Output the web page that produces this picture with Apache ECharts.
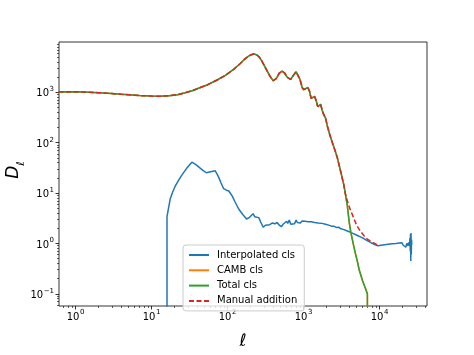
<!DOCTYPE html>
<html><head><meta charset="utf-8">
<script src="https://cdn.jsdelivr.net/npm/echarts@6/dist/echarts.min.js"></script>
<style>html,body{margin:0;padding:0;background:#fff}#c{width:474px;height:355px}</style>
</head><body><div id="c"></div>
<script>
// ---- data (raw values, plotted on log10 scales) ----
const interpEll = [16,16,17.6,19,20.5,23,25.2,29,34,38,41.7,47,52.6,60,69,76,82,89,97,104,115,125,135,145,160,178,195,205,217,228,238,258,275,295,315,333,
 360,390,420,450,480,510,540,570,600,620,650,680,720,760,800,830,870,910,960,1000,1050,1100,1150,1200,1260,1320,1400,1480,1560,1650,1750,1850,1950,2050,
 2200,2350,2500,2700,2900,3100,3250,3400,3550,3700,3850,4000,4200,4400,4600,4800,5000,5200,5450,5700,5950,6200,6500,6800,7100,7400,7700,8000,8400,8800,9200,9500,
 10000,10500,11000,11600,12300,13000,13800,14600,15500,16400,17300,18200,19000,19800,20500,21000,21600,22200,22800,23500,24200,24800,25200,25400,25600,25800,26000,26200,26400,26600];
const interpD = [0.001,3.4,7.6,10.5,13.7,18.5,23,31,41,37,33,28.5,25.3,26.5,27.6,21.2,16,12.2,11.4,11,8.8,6.8,5.4,4.5,3.7,3.05,3.3,3.6,3.9,3.4,3.2,3.25,2.6,2.1,2.3,2.5,
 2.35,2.55,2.45,2.6,2.3,2.15,2.4,2.3,2.75,2.5,2.9,2.4,2.6,2.45,2.9,2.6,2.75,2.55,2.8,2.6,2.75,2.55,2.7,2.6,2.7,2.5,2.6,2.5,2.55,2.4,2.5,2.35,2.4,2.3,
 2.28,2.18,2.2,2.08,2.1,1.95,2.0,1.88,1.92,1.78,1.82,1.7,1.72,1.6,1.63,1.5,1.53,1.42,1.45,1.33,1.36,1.25,1.24,1.15,1.16,1.07,1.08,1.0,0.98,0.94,0.93,0.9,
 0.88,0.92,0.9,0.94,0.92,0.96,0.93,0.98,0.95,1.0,0.97,1.02,0.98,1.03,0.92,0.85,0.95,0.84,1.0,0.9,1.05,0.88,1.3,0.7,1.55,0.45,1.6,0.6,1.2,0.95];

const cambEll = [0.6,1,1.5,2,3,4,5,7,10,13,17,22,27,35,44,55,73,95,120,145,165,185,205,222,240,260,280,305,333,365,400,440,480,523,560,610,675,740,800,840,900,960,
 1010,1070,1140,1200,1260,1330,1400,1470,1540,1600,1680,1760,1850,1900,1960,2050,2100,2230,2400,2600,2790,3090,3410,3520,3780,4000,4170,4500,4800,5130,5400,6000,6500,6930,6960];
const cambD = [1020,1030,1010,985,945,915,895,862,842,840,858,900,970,1090,1250,1420,1760,2200,2850,3650,4450,5100,5600,5750,5600,5100,4300,3400,2650,2050,1700,1900,2400,2630,2450,2000,1800,2200,2560,2450,1800,1250,
 1130,1200,1250,1050,760,780,830,680,520,560,580,440,360,370,300,220,215,140,100,70,50,26.5,14,10.5,5.5,2.6,1.75,1.0,0.65,0.43,0.3,0.18,0.13,0.1,0.001];
const totalEll = cambEll;
const totalD = cambD;

const manualEll = cambEll.slice(0, 65).concat([3520,3780,4100,4500,5000,5600,6300,7000,8000,9000,9800]);
const manualD = cambD.slice(0, 65).concat([10.3,7.0,4.8,3.4,2.3,1.75,1.4,1.2,1.06,0.97,0.92]);

const seriesNames = ['Interpolated cls','CAMB cls','Total cls','Manual addition'];
const seriesColors = ['#1f77b4','#ff7f0e','#2ca02c','#d62728'];
const xMajorExp = [0,1,2,3,4];
const yMajorExp = [-1,0,1,2,3];

// ---- helpers ----
const L = Math.log10;
const pts = (xs, ys) => xs.map((x, i) => [L(x), L(ys[i])]);
function minorTicks(lo, hi) {
  const out = [];
  for (let n = -2; n <= 5; n++) for (let k = 2; k <= 9; k++) {
    const v = n + L(k);
    if (v >= lo && v <= hi) out.push(v);
  }
  return out;
}
const XMIN = -0.217, XMAX = 4.625, YMIN = -1.243, YMAX = 4.0;
const font = 'DejaVu Sans';
const supFmt = v => { const e = Math.round(v); return '{b|10}{s|' + (e < 0 ? '\u2212' + (-e) : e) + '}'; };
const rich = {
  b: {fontSize: 10, fontFamily: font, color: '#000', lineHeight: 13, verticalAlign: 'bottom'},
  s: {fontSize: 7, fontFamily: font, color: '#000', lineHeight: 13, verticalAlign: 'top', padding: [0,0,0,0.5]}
};
const tickLine = {color: '#000', width: 0.8};

function axisPair(dim, min, max, major) {
  const main = {
    type: 'value', min, max, gridIndex: 0,
    axisLine: {show: false, onZero: false}, splitLine: {show: false},
    axisTick: {show: true, customValues: major, length: 3.5, lineStyle: tickLine},
    axisLabel: {show: true, customValues: major, formatter: supFmt, rich, margin: dim === 'x' ? 3 : 5}
  };
  const minor = {
    type: 'value', min, max, gridIndex: 0,
    axisLine: {show: false, onZero: false}, splitLine: {show: false},
    axisTick: {show: true, customValues: minorTicks(min, max), length: 2, lineStyle: {color: '#000', width: 0.6}},
    axisLabel: {show: false}
  };
  if (dim === 'x') { main.position = 'bottom'; minor.position = 'bottom'; }
  else { main.position = 'left'; minor.position = 'left'; }
  return [main, minor];
}

const chart = echarts.init(document.getElementById('c'), null, {renderer: 'canvas'});
const xAxes = axisPair('x', XMIN, XMAX, xMajorExp);
xAxes[0].name = '\u2113';
xAxes[0].nameLocation = 'middle';
xAxes[0].nameGap = 27;
xAxes[0].nameTextStyle = {fontSize: 17, fontStyle: 'italic', fontFamily: font, color: '#000'};

const lineSeries = (i, data, extra) => Object.assign({
  name: seriesNames[i], type: 'line', data, symbol: 'none', showSymbol: false,
  xAxisIndex: 0, yAxisIndex: 0, clip: true, z: 2 + i,
  lineStyle: {color: seriesColors[i], width: 1.5}, itemStyle: {color: seriesColors[i]}
}, extra || {});

chart.setOption({
  animation: false,
  backgroundColor: '#fff',
  grid: {left: 59, right: 47, top: 42, bottom: 39, show: true, borderColor: '#000', borderWidth: 0.8, backgroundColor: 'transparent'},
  xAxis: xAxes,
  yAxis: axisPair('y', YMIN, YMAX, yMajorExp),
  legend: {
    orient: 'vertical', left: 183, top: 245,
    padding: [5, 7, 5, 5], itemGap: 5.3, itemWidth: 20, itemHeight: 10,
    backgroundColor: 'rgba(255,255,255,0.8)', borderColor: '#cccccc', borderWidth: 1, borderRadius: 3,
    itemStyle: {opacity: 0},
    textStyle: {fontSize: 10, fontFamily: font, color: '#000', padding: [0,0,0,3]},
    data: seriesNames
  },
  graphic: [{
    type: 'text', x: 16, y: 170, rotation: Math.PI / 2,
    style: {text: '{d|D}{l|\u2113}', align: 'center', verticalAlign: 'middle',
      rich: {d: {fontSize: 17, fontStyle: 'italic', fontFamily: font, color: '#000', lineHeight: 22, verticalAlign: 'top'},
             l: {fontSize: 11, fontStyle: 'italic', fontFamily: font, color: '#000', lineHeight: 22, verticalAlign: 'bottom'}}}
  }],
  series: [
    lineSeries(0, pts(interpEll, interpD)),
    lineSeries(1, pts(cambEll, cambD)),
    lineSeries(2, pts(totalEll, totalD)),
    lineSeries(3, pts(manualEll, manualD), {lineStyle: {color: seriesColors[3], width: 1.5, type: [5, 2.5]}})
  ]
});
</script></body></html>
